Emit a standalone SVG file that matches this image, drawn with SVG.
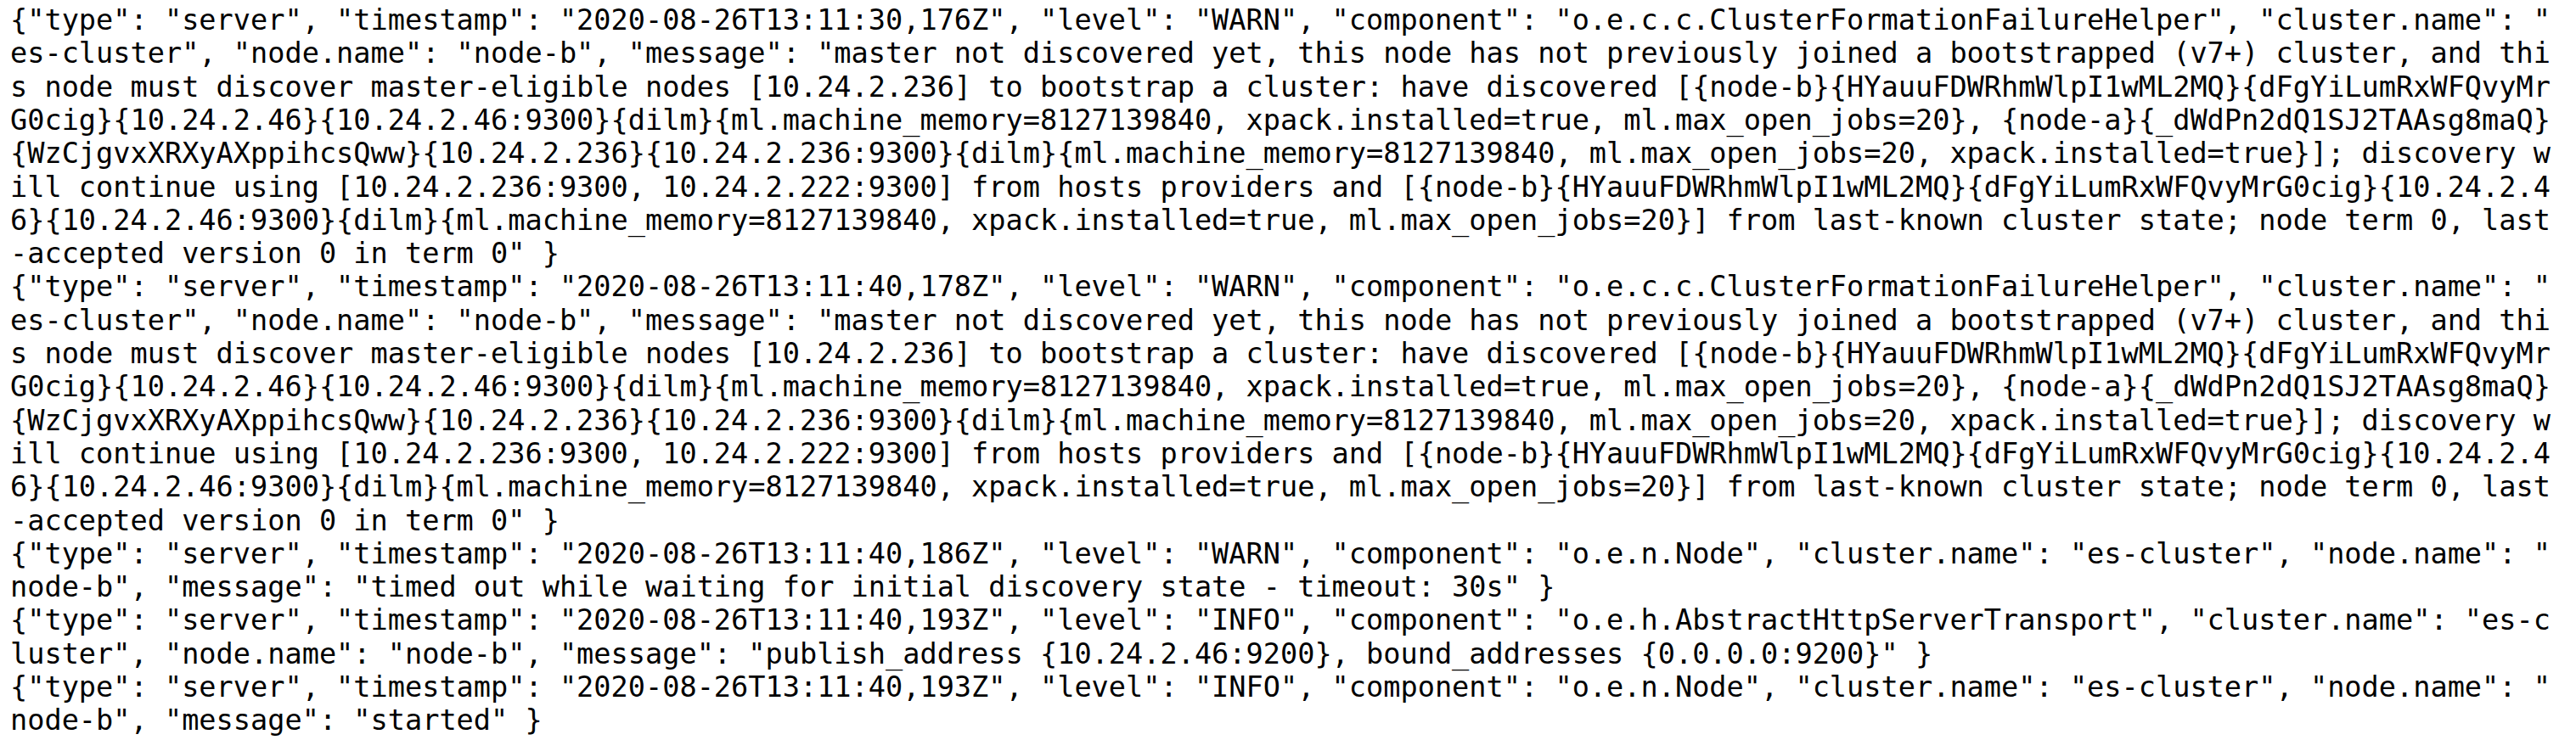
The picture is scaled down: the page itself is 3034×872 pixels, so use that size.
<svg xmlns="http://www.w3.org/2000/svg" width="3034" height="872" viewBox="0 0 3034 872">
<style>
text{font-family:"DejaVu Sans Mono","Liberation Mono",monospace;font-size:33.6px;fill:#000;white-space:pre}
</style>
<rect width="3034" height="872" fill="#fff"/>
<g id="log" transform="translate(12,0)">
<text y="35">{"type": "server", "timestamp": "2020-08-26T13:11:30,176Z", "level": "WARN", "component": "o.e.c.c.ClusterFormationFailureHelper", "cluster.name": "</text>
<text y="74">es-cluster", "node.name": "node-b", "message": "master not discovered yet, this node has not previously joined a bootstrapped (v7+) cluster, and thi</text>
<text y="114">s node must discover master-eligible nodes [10.24.2.236] to bootstrap a cluster: have discovered [{node-b}{HYauuFDWRhmWlpI1wML2MQ}{dFgYiLumRxWFQvyMr</text>
<text y="153">G0cig}{10.24.2.46}{10.24.2.46:9300}{dilm}{ml.machine_memory=8127139840, xpack.installed=true, ml.max_open_jobs=20}, {node-a}{_dWdPn2dQ1SJ2TAAsg8maQ}</text>
<text y="192">{WzCjgvxXRXyAXppihcsQww}{10.24.2.236}{10.24.2.236:9300}{dilm}{ml.machine_memory=8127139840, ml.max_open_jobs=20, xpack.installed=true}]; discovery w</text>
<text y="232">ill continue using [10.24.2.236:9300, 10.24.2.222:9300] from hosts providers and [{node-b}{HYauuFDWRhmWlpI1wML2MQ}{dFgYiLumRxWFQvyMrG0cig}{10.24.2.4</text>
<text y="271">6}{10.24.2.46:9300}{dilm}{ml.machine_memory=8127139840, xpack.installed=true, ml.max_open_jobs=20}] from last-known cluster state; node term 0, last</text>
<text y="310">-accepted version 0 in term 0" }</text>
<text y="349">{"type": "server", "timestamp": "2020-08-26T13:11:40,178Z", "level": "WARN", "component": "o.e.c.c.ClusterFormationFailureHelper", "cluster.name": "</text>
<text y="389">es-cluster", "node.name": "node-b", "message": "master not discovered yet, this node has not previously joined a bootstrapped (v7+) cluster, and thi</text>
<text y="428">s node must discover master-eligible nodes [10.24.2.236] to bootstrap a cluster: have discovered [{node-b}{HYauuFDWRhmWlpI1wML2MQ}{dFgYiLumRxWFQvyMr</text>
<text y="467">G0cig}{10.24.2.46}{10.24.2.46:9300}{dilm}{ml.machine_memory=8127139840, xpack.installed=true, ml.max_open_jobs=20}, {node-a}{_dWdPn2dQ1SJ2TAAsg8maQ}</text>
<text y="507">{WzCjgvxXRXyAXppihcsQww}{10.24.2.236}{10.24.2.236:9300}{dilm}{ml.machine_memory=8127139840, ml.max_open_jobs=20, xpack.installed=true}]; discovery w</text>
<text y="546">ill continue using [10.24.2.236:9300, 10.24.2.222:9300] from hosts providers and [{node-b}{HYauuFDWRhmWlpI1wML2MQ}{dFgYiLumRxWFQvyMrG0cig}{10.24.2.4</text>
<text y="585">6}{10.24.2.46:9300}{dilm}{ml.machine_memory=8127139840, xpack.installed=true, ml.max_open_jobs=20}] from last-known cluster state; node term 0, last</text>
<text y="625">-accepted version 0 in term 0" }</text>
<text y="664">{"type": "server", "timestamp": "2020-08-26T13:11:40,186Z", "level": "WARN", "component": "o.e.n.Node", "cluster.name": "es-cluster", "node.name": "</text>
<text y="703">node-b", "message": "timed out while waiting for initial discovery state - timeout: 30s" }</text>
<text y="742">{"type": "server", "timestamp": "2020-08-26T13:11:40,193Z", "level": "INFO", "component": "o.e.h.AbstractHttpServerTransport", "cluster.name": "es-c</text>
<text y="782">luster", "node.name": "node-b", "message": "publish_address {10.24.2.46:9200}, bound_addresses {0.0.0.0:9200}" }</text>
<text y="821">{"type": "server", "timestamp": "2020-08-26T13:11:40,193Z", "level": "INFO", "component": "o.e.n.Node", "cluster.name": "es-cluster", "node.name": "</text>
<text y="860">node-b", "message": "started" }</text>
</g>
</svg>
